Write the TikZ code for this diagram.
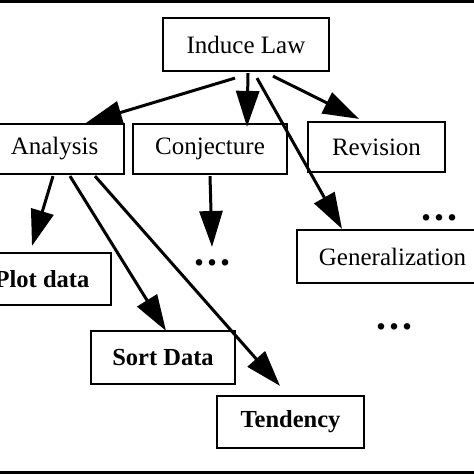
\documentclass[tikz,border=0pt]{standalone}
\usepackage{fontspec}
\setmainfont{Liberation Serif}
\usetikzlibrary{arrows.meta}
\begin{document}
\begin{tikzpicture}[x=1pt,y=-1pt,
  box/.style={draw=black,fill=white,line width=2.2pt,inner sep=0pt,
    font=\fontsize{25}{30}\selectfont},
  boldbox/.style={box,font=\fontsize{24.5}{30}\selectfont\bfseries},
  dots/.style={inner sep=0pt,font=\fontsize{40}{44}\selectfont\bfseries},
  arr/.style={line width=3pt,-{Triangle[length=36pt,width=23pt]}}]
\useasboundingbox (0,0) rectangle (474,474);
\clip (0,0) rectangle (474,474);
% rules at top and bottom
\fill[black] (0,0) rectangle (474,2.6);
\fill[black] (0,471.4) rectangle (474,474);
% boxes
\node[box,minimum width=166pt,minimum height=53pt] (induce) at (246,44.5) {Induce Law};
\node[box,minimum width=139pt,minimum height=50pt] (analysis) at (54.5,149) {Analysis};
\node[box,minimum width=154pt,minimum height=50pt] (conj) at (210,149) {Conjecture};
\node[box,minimum width=137pt,minimum height=50pt] (rev) at (376.5,147) {Revision};
\node[box,minimum width=191pt,minimum height=53pt] (gen) at (392.5,256.5) {Generalization};
\node[boldbox,minimum width=138pt,minimum height=52pt] (plot) at (42,279) {Plot data};
\node[boldbox,minimum width=144pt,minimum height=53pt] (sort) at (163,357.5) {Sort Data};
\node[boldbox,minimum width=147pt,minimum height=52pt] (tend) at (290.5,422) {Tendency};
% ellipses
\node[dots] (dA) at (212,263) {.\hspace{3pt}.\hspace{3pt}.};
\node[dots] (dB) at (394,327) {.\hspace{3pt}.\hspace{3pt}.};
\node[dots] (dC) at (439,218) {.\hspace{3pt}.\hspace{3pt}.};
% connectors
\draw[arr] ([xshift=-11pt,yshift=-6pt]induce.south) -- ([xshift=31.5pt]analysis.north);
\draw[arr] ([xshift=2pt,yshift=-1pt]induce.south) -- ([xshift=37pt,yshift=-4pt]conj.north);
\draw[arr] ([xshift=27pt,yshift=-4pt]induce.south) -- ([xshift=-17.5pt,yshift=2pt]rev.north);
\draw[arr] ([xshift=11pt,yshift=-6pt]induce.south) -- ([xshift=-50.5pt]gen.north);
\draw[arr] ([xshift=-1.5pt,yshift=-1pt]analysis.south) -- ([xshift=-10pt,yshift=6pt]plot.north);
\draw[arr] ([xshift=15.5pt,yshift=-1pt]analysis.south) -- ([xshift=3pt,yshift=-1pt]sort.north);
\draw[arr] ([xshift=40.5pt,yshift=-1pt]analysis.south) -- ([xshift=-10.5pt,yshift=9pt]tend.north);
\draw[arr] ([yshift=-1pt]conj.south) -- ([yshift=16pt]dA.center);
\end{tikzpicture}
\end{document}
